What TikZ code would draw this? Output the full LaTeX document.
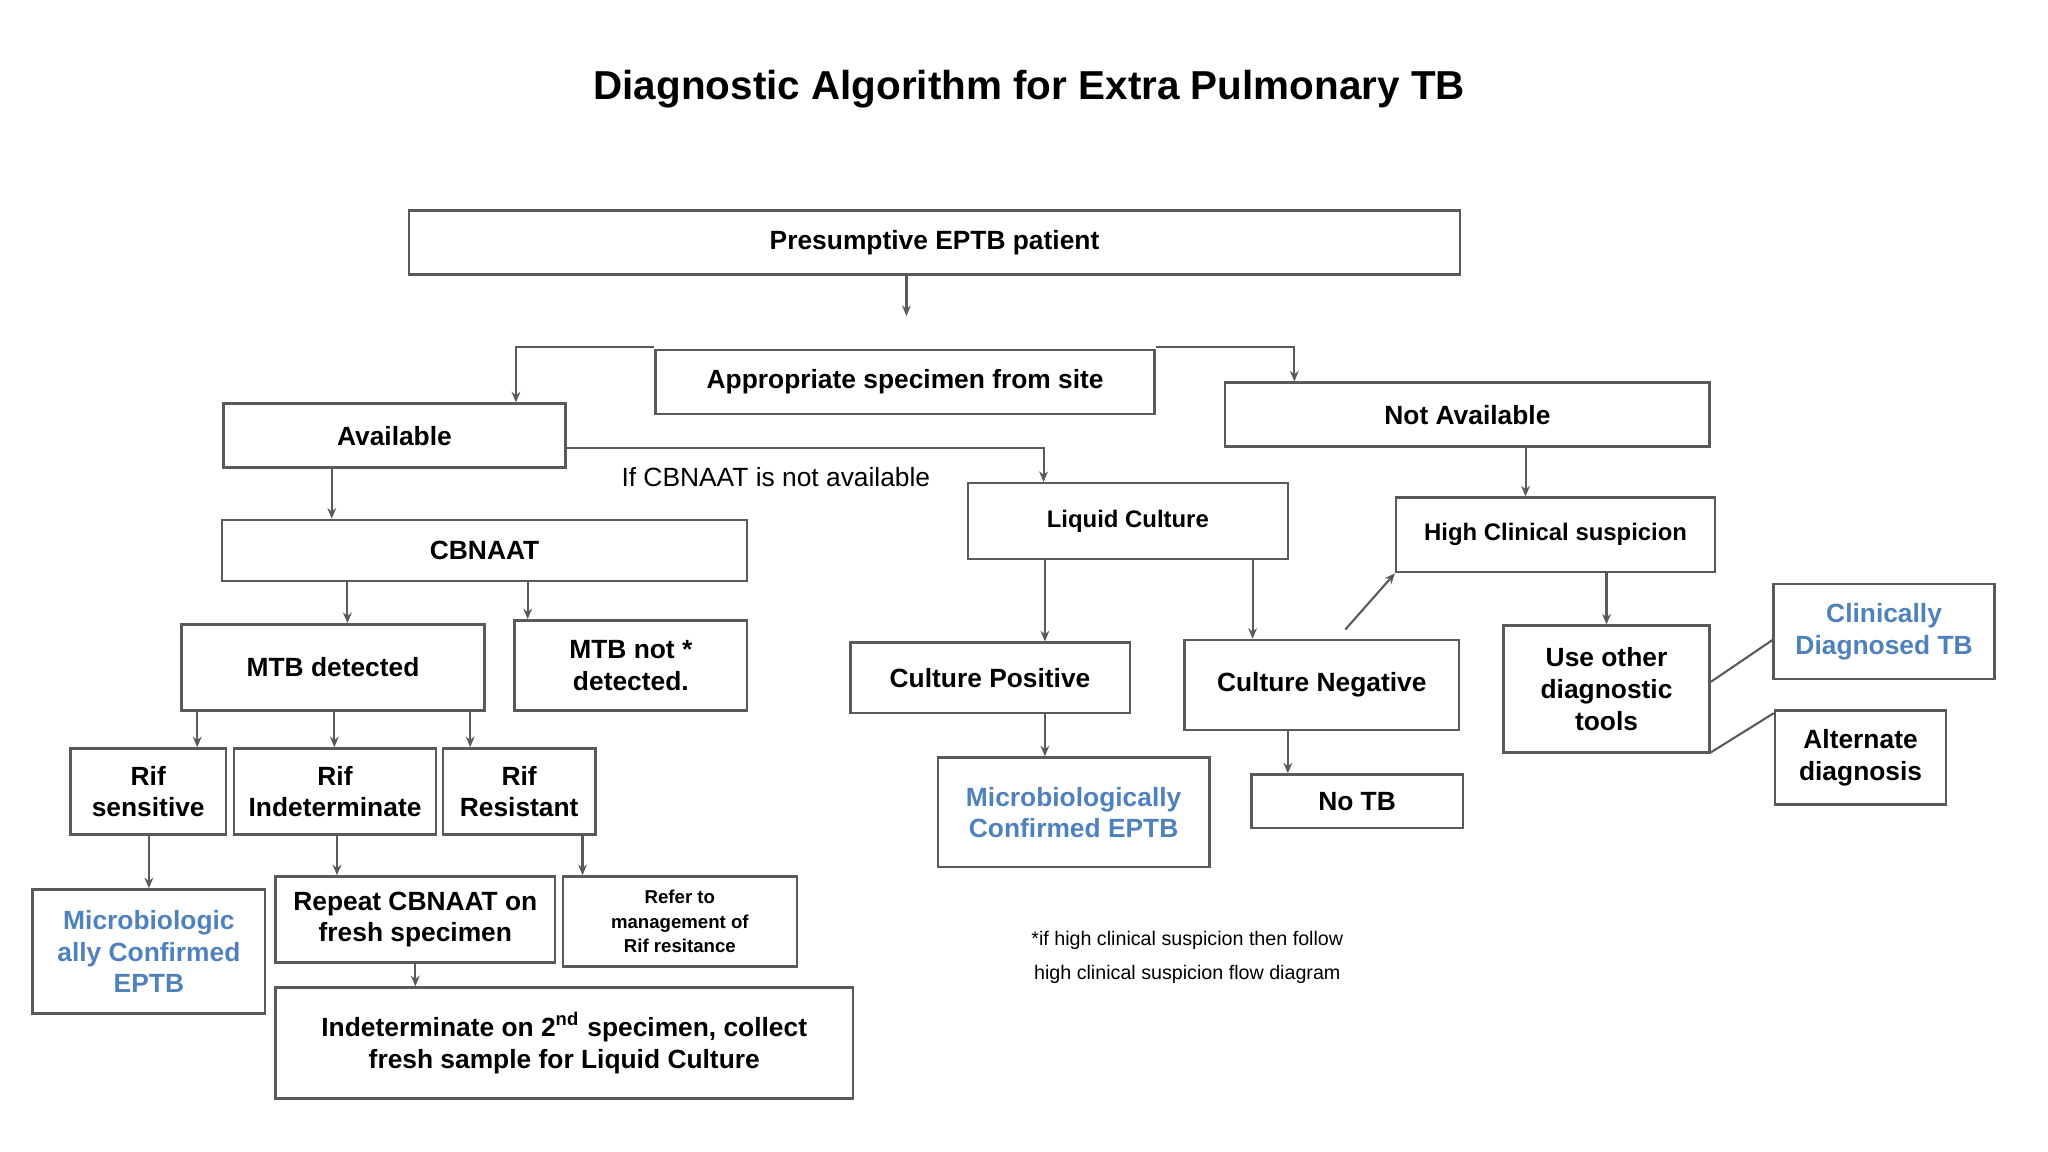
\documentclass[tikz,border=0pt]{standalone}
\usepackage{fontspec}
\setmainfont{Liberation Sans}
\usetikzlibrary{arrows.meta}
\definecolor{boxline}{RGB}{90,90,90}
\definecolor{bluetext}{RGB}{79,129,189}
\begin{document}
\begin{tikzpicture}
[x=0.01306cm, y=-0.01306cm,
 boxDecorate/.style={draw=boxline, line width=0.7pt, align=center, font=\fontsize{7.5}{9}\selectfont\bfseries, inner sep=1pt},
 lineDecorate/.style={-{Stealth[length=3pt,width=2.5pt]}, draw=boxline, line width=0.6pt},
 plainLine/.style={draw=boxline, line width=0.6pt}]

\useasboundingbox (0,0) rectangle (1568,882);

\node at (788,68) {\fontsize{11.5}{13}\selectfont\bfseries Diagnostic Algorithm for Extra Pulmonary TB};

% boxes
\node (pres) at (715.5,185.5) [boxDecorate, minimum width={805*0.01306cm}, minimum height={49*0.01306cm}] {Presumptive EPTB patient};
\node (spec) at (693,292.5) [boxDecorate, minimum width={382*0.01306cm}, minimum height={49*0.01306cm}] {Appropriate specimen from site};
\node (avail) at (302,333.5) [boxDecorate, minimum width={262*0.01306cm}, minimum height={49*0.01306cm}] {Available};
\node (notav) at (1123.5,317.5) [boxDecorate, minimum width={371*0.01306cm}, minimum height={49*0.01306cm}] {Not Available};
\node (liq) at (863.5,399) [boxDecorate, minimum width={245*0.01306cm}, minimum height={58*0.01306cm}, font=\fontsize{6.8}{8}\selectfont\bfseries] {Liquid Culture};
\node (high) at (1191,409.5) [boxDecorate, minimum width={244*0.01306cm}, minimum height={57*0.01306cm}, font=\fontsize{6.8}{8}\selectfont\bfseries] {High Clinical suspicion};
\node (cbn) at (371,421.5) [boxDecorate, minimum width={402*0.01306cm}, minimum height={47*0.01306cm}] {CBNAAT};
\node (mtbd) at (255,511) [boxDecorate, minimum width={232*0.01306cm}, minimum height={66*0.01306cm}] {MTB detected};
\node (mtbn) at (483,509.5) [boxDecorate, minimum width={178*0.01306cm}, minimum height={69*0.01306cm}] {MTB not *\\detected.};
\node (cpos) at (758,519) [boxDecorate, minimum width={214*0.01306cm}, minimum height={54*0.01306cm}] {Culture Positive};
\node (cneg) at (1012,524.5) [boxDecorate, minimum width={210*0.01306cm}, minimum height={69*0.01306cm}] {Culture Negative};
\node (other) at (1230,527.5) [boxDecorate, minimum width={158*0.01306cm}, minimum height={97*0.01306cm}] {Use other\\diagnostic\\tools};
\node (clin) at (1442.5,483.5) [boxDecorate, minimum width={169*0.01306cm}, minimum height={73*0.01306cm}, text=bluetext] {Clinically\\Diagnosed TB};
\node (alt) at (1424.5,580) [boxDecorate, minimum width={131*0.01306cm}, minimum height={72*0.01306cm}] {Alternate\\diagnosis};
\node (rifs) at (113.5,606) [boxDecorate, minimum width={119*0.01306cm}, minimum height={66*0.01306cm}] {Rif\\sensitive};
\node (rifi) at (256.5,606) [boxDecorate, minimum width={155*0.01306cm}, minimum height={66*0.01306cm}] {Rif\\Indeterminate};
\node (rifr) at (397.5,606) [boxDecorate, minimum width={117*0.01306cm}, minimum height={66*0.01306cm}] {Rif\\Resistant};
\node (mce) at (822,622) [boxDecorate, minimum width={208*0.01306cm}, minimum height={84*0.01306cm}, text=bluetext] {Microbiologically\\Confirmed EPTB};
\node (notb) at (1039,613.5) [boxDecorate, minimum width={162*0.01306cm}, minimum height={41*0.01306cm}] {No TB};
\node (mcl) at (114,728.5) [boxDecorate, minimum width={178*0.01306cm}, minimum height={95*0.01306cm}, text=bluetext] {Microbiologic\\ally Confirmed\\EPTB};
\node (rep) at (318,704) [boxDecorate, minimum width={214*0.01306cm}, minimum height={66*0.01306cm}] {Repeat CBNAAT on\\fresh specimen};
\node (ref) at (520.5,705.5) [boxDecorate, minimum width={179*0.01306cm}, minimum height={69*0.01306cm}, font=\fontsize{5.3}{7}\selectfont\bfseries] {Refer to\\management of\\Rif resitance};
\node (ind) at (432,798.5) [boxDecorate, minimum width={442*0.01306cm}, minimum height={85*0.01306cm}] {Indeterminate on 2\textsuperscript{nd} specimen, collect\\fresh sample for Liquid Culture};

% texts
\node (ifcb) at (594,365) {\fontsize{7.5}{9}\selectfont If CBNAAT is not available};
\node (foot) at (909,733) [align=center, font=\fontsize{5.6}{9.5}\selectfont] {*if high clinical suspicion then follow\\high clinical suspicion flow diagram};

\coordinate (presEnd) at (694,242);

% connectors
\draw[lineDecorate] (694,0 |- pres.south) -- (presEnd);
\draw[lineDecorate] (spec.west |- 0,266) -- (395,266) -- (395,0 |- avail.north);
\draw[lineDecorate] (spec.east |- 0,266) -- (991,266) -- (991,0 |- notav.north);
\draw[lineDecorate] (avail.east |- 0,343) -- (799,343) -- (799,0 |- liq.north);
\draw[lineDecorate] (254,0 |- avail.south) -- (254,0 |- cbn.north);
\draw[lineDecorate] (266,0 |- cbn.south) -- (266,0 |- mtbd.north);
\draw[lineDecorate] (404,0 |- cbn.south) -- (404,0 |- mtbn.north);
\foreach \x/\target in {151/rifs,256/rifi,360/rifr}
{
  \draw[lineDecorate] (\x,0 |- mtbd.south) -- (\x,0 |- \target.north);
}
\draw[lineDecorate] (114,0 |- rifs.south) -- (114,0 |- mcl.north);
\draw[lineDecorate] (258,0 |- rifi.south) -- (258,0 |- rep.north);
\draw[lineDecorate] (446,0 |- rifr.south) -- (446,0 |- ref.north);
\draw[lineDecorate] (318,0 |- rep.south) -- (318,0 |- ind.north);
\draw[lineDecorate] (800,0 |- liq.south) -- (800,0 |- cpos.north);
\draw[lineDecorate] (959,0 |- liq.south) -- (959,0 |- cneg.north);
\draw[lineDecorate] (800,0 |- cpos.south) -- (800,0 |- mce.north);
\draw[lineDecorate] (986,0 |- cneg.south) -- (986,0 |- notb.north);
\draw[lineDecorate] (1030,482) -- (1068,0 |- high.south);
\draw[lineDecorate] (1168,0 |- notav.south) -- (1168,0 |- high.north);
\draw[lineDecorate] (1230,0 |- high.south) -- (other.north);
\draw[plainLine] (other.east |- 0,522) -- (clin.west |- 0,490);
\draw[plainLine] (other.east |- 0,576) -- (alt.west |- 0,546);
\end{tikzpicture}
\end{document}
